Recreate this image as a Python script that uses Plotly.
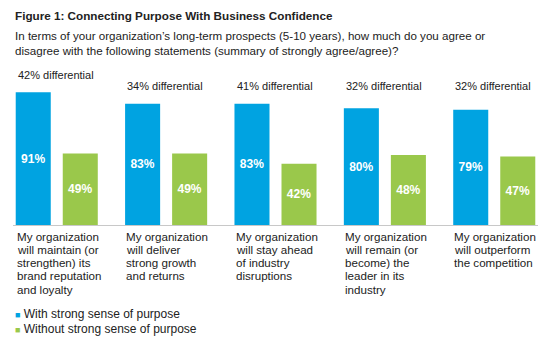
import plotly.graph_objects as go

statements = [
    ["My organization", "will maintain (or", "strengthen) its", "brand reputation", "and loyalty"],
    ["My organization", "will deliver", "strong growth", "and returns"],
    ["My organization", "will stay ahead", "of industry", "disruptions"],
    ["My organization", "will remain (or", "become) the", "leader in its", "industry"],
    ["My organization", "will outperform", "the competition"],
]
with_purpose = [91, 83, 83, 80, 79]
without_purpose = [49, 49, 42, 48, 47]
differentials = ["42% differential", "34% differential", "41% differential",
                 "32% differential", "32% differential"]
series_names = ["With strong sense of purpose", "Without strong sense of purpose"]
title = "Figure 1: Connecting Purpose With Business Confidence"
subtitle = [
    "In terms of your organization’s long-term prospects (5-10 years), how much do you agree or",
    "disagree with the following statements (summary of strongly agree/agree)?",
]

BLUE = "#00A3E1"
GREEN = "#9AC84B"
TEXT = "#222222"
FONT = "Arial, Liberation Sans, sans-serif"

W, H = 550, 348
ML, MR, MT, MB = 13, 12, 79, 123
PW, PH = W - ML - MR, H - MT - MB


def px_x(p):
    return (p - ML) / PW


def px_y(p):
    return (H - MB - p) / PH


x_idx = list(range(len(statements)))

fig = go.Figure()
for vals, color in [(with_purpose, BLUE), (without_purpose, GREEN)]:
    fig.add_trace(go.Bar(
        x=x_idx, y=vals,
        marker=dict(color=color, line=dict(width=0)),
        text=[f"{v}%" for v in vals],
        textposition="inside", insidetextanchor="middle",
        textfont=dict(family=FONT, size=12, color="white", weight="bold"),
        showlegend=False, hoverinfo="skip",
    ))

annotations = []
# differential labels above each group, left-aligned with the first bar
for i, txt in enumerate(differentials):
    annotations.append(dict(
        x=i, xref="x", xshift=-41, xanchor="left",
        y=px_y(75 if i == 0 else 86), yref="paper", yanchor="middle",
        text=txt, showarrow=False,
        font=dict(family=FONT, size=11, color=TEXT),
    ))
# statement labels below each group, one line at a time
for i, lines in enumerate(statements):
    for j, line in enumerate(lines):
        annotations.append(dict(
            x=i, xref="x", xshift=-42, xanchor="left",
            y=px_y(236 + 13.3 * j), yref="paper", yanchor="middle",
            text=line, showarrow=False,
            font=dict(family=FONT, size=11.6, color=TEXT),
        ))
# legend
for k, (name, color) in enumerate(zip(series_names, [BLUE, GREEN])):
    annotations.append(dict(
        x=px_x(13), xref="paper", xanchor="left",
        y=px_y(314 + 14.5 * k), yref="paper", yanchor="middle",
        text=f"<span style='color:{color};font-size:9px'>■</span> {name}",
        showarrow=False,
        font=dict(family=FONT, size=12, color=TEXT),
    ))
# title and subtitle
annotations.append(dict(
    x=px_x(13), xref="paper", xanchor="left",
    y=px_y(15), yref="paper", yanchor="middle",
    text=f"<b>{title}</b>", showarrow=False,
    font=dict(family=FONT, size=11.7, color=TEXT),
))
for k, line in enumerate(subtitle):
    annotations.append(dict(
        x=px_x(13), xref="paper", xanchor="left",
        y=px_y(36 + 14.5 * k), yref="paper", yanchor="middle",
        text=line, showarrow=False,
        font=dict(family=FONT, size=11.6, color=TEXT),
    ))

fig.update_layout(
    width=W, height=H,
    margin=dict(l=ML, r=MR, t=MT, b=MB),
    paper_bgcolor="white", plot_bgcolor="white",
    font=dict(family=FONT, color=TEXT),
    barmode="group", bargap=0.14, bargroupgap=0.255,
    showlegend=False,
    annotations=annotations,
    xaxis=dict(range=[-0.4, 4.4], showticklabels=False, ticks="",
               showgrid=False, zeroline=False, showline=True,
               linecolor="#c8c8c8", linewidth=1),
    yaxis=dict(range=[0, 100], visible=False),
)

fig.write_html("out.html")
